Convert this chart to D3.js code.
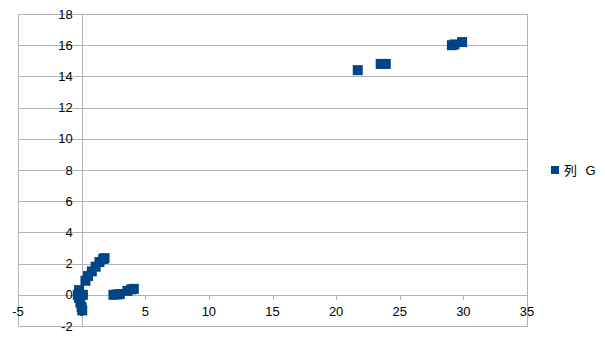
<!DOCTYPE html>
<html><head><meta charset="utf-8">
<script src="https://cdn.jsdelivr.net/npm/d3@7"></script>
<style>body{margin:0;background:#fff}svg{display:block}</style>
</head><body>
<script>
const seriesName = "列 G";
const xValues = [-0.2,-0.3,-0.2,-0.1,0.0,0.05,0.1, 0.3,0.5,0.8,1.1,1.4,1.7,1.8, 2.5,2.8,3.0,3.6,3.9,4.1, 21.7,23.5,23.9,29.1,29.3,29.9];
const yValues = [0.3,0.0,-0.2,-0.5,-0.8,-1.0,0.0, 0.9,1.2,1.5,1.8,2.1,2.3,2.35, 0.0,0.02,0.05,0.25,0.35,0.38, 14.4,14.8,14.8,16.0,16.05,16.2];
const xTicks = [-5,0,5,10,15,20,25,30,35];
const yTicks = [-2,0,2,4,6,8,10,12,14,16,18];

const W=605,H=340;
const svg=d3.select("body").append("svg").attr("width",W).attr("height",H);
const x=d3.scaleLinear().domain([-5,35]).range([18,527]);
const y=d3.scaleLinear().domain([-2,18]).range([326,14]);
const font="'Liberation Sans', Arial, sans-serif";
const grid="#b3b3b3";

svg.append("g").selectAll("line").data(yTicks).join("line")
  .attr("x1",x(-5)).attr("x2",x(35))
  .attr("y1",d=>Math.round(y(d))+0.5).attr("y2",d=>Math.round(y(d))+0.5)
  .attr("stroke",grid).attr("stroke-width",1);
svg.append("rect").attr("x",x(-5)+0.5).attr("y",Math.round(y(18))+0.5)
  .attr("width",x(35)-x(-5)).attr("height",Math.round(y(-2))-Math.round(y(18)))
  .attr("fill","none").attr("stroke",grid);
svg.append("line").attr("x1",Math.round(x(0))+0.5).attr("x2",Math.round(x(0))+0.5)
  .attr("y1",y(18)).attr("y2",y(-2)).attr("stroke",grid);
svg.append("g").selectAll("line").data(xTicks).join("line")
  .attr("x1",d=>Math.round(x(d))+0.5).attr("x2",d=>Math.round(x(d))+0.5)
  .attr("y1",Math.round(y(0))).attr("y2",Math.round(y(0))+5).attr("stroke",grid);
svg.append("g").selectAll("line").data(yTicks).join("line")
  .attr("x1",Math.round(x(0))-4).attr("x2",Math.round(x(0)))
  .attr("y1",d=>Math.round(y(d))+0.5).attr("y2",d=>Math.round(y(d))+0.5).attr("stroke",grid);

svg.append("g").selectAll("text").data(yTicks).join("text")
  .attr("x",x(0)-9).attr("y",d=>y(d)).attr("dy","0.35em")
  .attr("text-anchor","end").attr("font-family",font).attr("font-size",13).attr("fill","#000")
  .text(d=>d);
svg.append("g").selectAll("text").data(xTicks).join("text")
  .attr("x",d=>x(d)).attr("y",y(0)+17).attr("dy","0.35em")
  .attr("text-anchor","middle").attr("font-family",font).attr("font-size",13).attr("fill","#000")
  .text(d=>d);

const pts=xValues.map((v,i)=>[v,yValues[i]]);
const s=10;
svg.append("g").selectAll("rect").data(pts).join("rect")
  .attr("x",d=>x(d[0])-s/2).attr("y",d=>y(d[1])-s/2)
  .attr("width",s).attr("height",s).attr("fill","#004586");

svg.append("rect").attr("x",551).attr("y",166).attr("width",8).attr("height",8).attr("fill","#004586");
svg.append("text").attr("x",564).attr("y",170).attr("dy","0.35em")
  .attr("font-family","'Liberation Sans','Noto Sans CJK JP',sans-serif").attr("font-size",13).attr("fill","#000")
  .attr("word-spacing","5px")
  .text(seriesName);
</script>
</body></html>
